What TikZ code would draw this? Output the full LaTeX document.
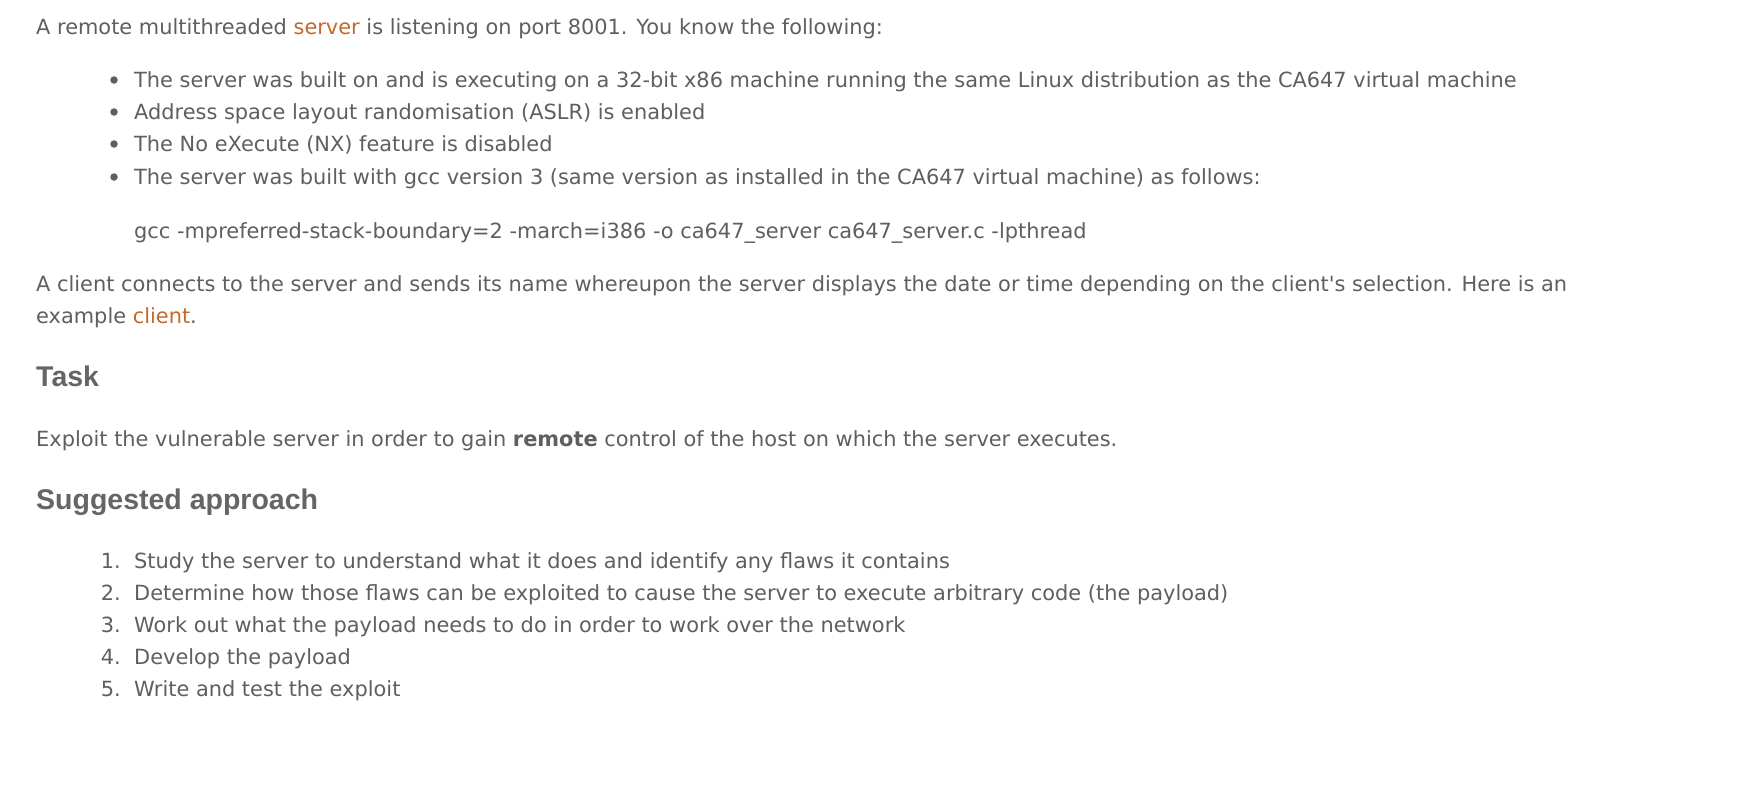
\documentclass[tikz,border=0pt]{standalone}
\usepackage{fontspec}
\setmainfont{DejaVu Sans}
\newfontfamily\headfont{Liberation Sans}
\usepackage{xcolor}
\usetikzlibrary{positioning}
\definecolor{bodygray}{HTML}{5F5F5F}
\definecolor{headgray}{HTML}{656565}
\definecolor{linkorange}{HTML}{C4682B}
\tikzset{
    x=1pt,y=-1pt,
    txt/.style ={anchor=base west, inner sep=0pt, text=bodygray, font=\fontsize{20.9}{25}\selectfont},
    head/.style ={anchor=base west, inner sep=0pt, text=headgray, font=\headfont\bfseries\fontsize{28.5}{32}\selectfont},
    num/.style ={anchor=base east, inner sep=0pt, text=bodygray, font=\fontsize{20.9}{25}\selectfont},
    dot/.style = {circle, fill=bodygray, inner sep=0pt, minimum size=7.5pt}
}
\newcommand{\lnk}[1]{\textcolor{linkorange}{#1}}

\begin{document}
\begin{tikzpicture}
        \useasboundingbox[fill=white] (0,0) rectangle (1756,803);
        \node[txt] (intro) at (36,34) {A remote multithreaded \lnk{server} is listening on port 8001. You know the following:};
        \node[txt] (b1) at (134,87) {The server was built on and is executing on a 32-bit x86 machine running the same Linux distribution as the CA647 virtual machine};
        \node[txt] (b2) at (134,119) {Address space layout randomisation (ASLR) is enabled};
        \node[txt] (b3) at (134,151) {The No eXecute (NX) feature is disabled};
        \node[txt] (b4) at (134,184) {The server was built with gcc version 3 (same version as installed in the CA647 virtual machine) as follows:};
        \node[dot] (d1) at (114,80) {};
        \node[dot] (d2) at (114,112) {};
        \node[dot] (d3) at (114,144) {};
        \node[dot] (d4) at (114,177) {};
        \node[txt] (gcc) at (134,238) {gcc -mpreferred-stack-boundary=2 -march=i386 -o ca647\_server ca647\_server.c -lpthread};
        \node[txt] (p1) at (36,291) {A client connects to the server and sends its name whereupon the server displays the date or time depending on the client\textquotesingle s selection. Here is an};
        \node[txt] (p2) at (36,323) {example \lnk{client}.};
        \node[head] (task) at (36,386) {Task};
        \node[txt] (exploit) at (36,446) {Exploit the vulnerable server in order to gain \textbf{remote} control of the host on which the server executes.};
        \node[head] (sugg) at (36,509) {Suggested approach};
        \node[num] (n1) at (121,568) {1.};
        \node[num] (n2) at (121,600) {2.};
        \node[num] (n3) at (121,632) {3.};
        \node[num] (n4) at (121,664) {4.};
        \node[num] (n5) at (121,696) {5.};
        \node[txt] (s1) at (134,568) {Study the server to understand what it does and identify any flaws it contains};
        \node[txt] (s2) at (134,600) {Determine how those flaws can be exploited to cause the server to execute arbitrary code (the payload)};
        \node[txt] (s3) at (134,632) {Work out what the payload needs to do in order to work over the network};
        \node[txt] (s4) at (134,664) {Develop the payload};
        \node[txt] (s5) at (134,696) {Write and test the exploit};
    \end{tikzpicture}
\end{document}
